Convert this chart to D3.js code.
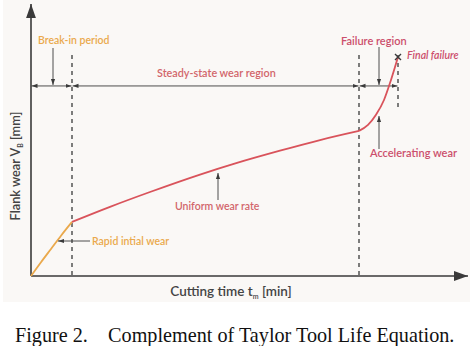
<!DOCTYPE html>
<html><head><meta charset="utf-8">
<script src="https://cdn.jsdelivr.net/npm/d3@7"></script>
<style>
html,body{margin:0;padding:0;background:#fff;}
svg{display:block;}
</style></head>
<body>
<script>
// ---- data (t in arbitrary time units, v in arbitrary wear units) ----
const breakInT = [0, 2.5, 5, 7.5, 10.25];
const breakInV = [0, 5.3, 10.4, 15.5, 20.8];
const steadyT = [10.25, 19.75, 29.75, 42.25, 51.5, 62.25, 72.25, 82];
const steadyV = [20.8, 26.6, 32.3, 39.0, 43.5, 48.2, 52.3, 55.8];
const accelT = [82, 84.25, 86.25, 88.25, 90, 91.75];
const accelV = [55.8, 58.1, 62.0, 67.7, 75.4, 84.2];
const boundaries = [10.25, 82, 91.75];
const regionNames = ["Break-in period", "Steady-state wear region", "Failure region"];
const annotations = ["Rapid intial wear", "Uniform wear rate", "Accelerating wear", "Final failure"];
const xLabel = "Cutting time t";
const yLabel = "Flank wear V";
const caption = "Figure 2.\u00a0\u00a0\u00a0 Complement of Taylor Tool Life Equation.";

const W = 474, H = 346;
const svg = d3.select("body").append("svg").attr("width", W).attr("height", H);

const x = d3.scaleLinear().domain([0, 100]).range([31, 431]);
const y = d3.scaleLinear().domain([0, 100]).range([276, 16]);

const dark = "#3a3a3a";
const orange = "#eaa94c";
const red = "#d9535b";
const redText = "#d2656a";
const pink = "#cc4f6c";

// background panel
svg.append("rect").attr("x", 3).attr("y", 0).attr("width", 467).attr("height", 302).attr("fill", "#faf8f6");

const defs = svg.append("defs");
function marker(id, size) {
  defs.append("marker").attr("id", id).attr("viewBox", "0 0 10 10").attr("refX", 10).attr("refY", 5)
    .attr("markerWidth", size).attr("markerHeight", size).attr("orient", "auto-start-reverse")
    .attr("markerUnits", "userSpaceOnUse")
    .append("path").attr("d", "M0,1.5 L10,5 L0,8.5 Z").attr("fill", dark);
}
marker("arr", 6);
marker("big", 14);

// region dashed lines
const dashTop = y(85);
svg.selectAll("line.bound").data(boundaries).join("line").attr("class", "bound")
  .attr("x1", d => x(d)).attr("x2", d => x(d))
  .attr("y1", dashTop).attr("y2", (d, i) => i === 2 ? y(65) : y(0))
  .attr("stroke", dark).attr("stroke-width", 1.3).attr("stroke-dasharray", "4,4");

// region span arrows
const spanY = y(73.1);
const spans = [[0, boundaries[0]], [boundaries[0], boundaries[1]], [boundaries[1], boundaries[2]]];
svg.selectAll("line.span").data(spans).join("line").attr("class", "span")
  .attr("x1", d => x(d[0]) + 0.5).attr("x2", d => x(d[1]) - 0.5)
  .attr("y1", spanY).attr("y2", spanY)
  .attr("stroke", dark).attr("stroke-width", 0.9)
  .attr("marker-start", "url(#arr)").attr("marker-end", "url(#arr)");

// axes
svg.append("line").attr("x1", x(0)).attr("x2", x(0)).attr("y1", y(0)).attr("y2", 4)
  .attr("stroke", dark).attr("stroke-width", 1.6).attr("marker-end", "url(#big)");
svg.append("line").attr("x1", x(0)).attr("x2", 468).attr("y1", y(0)).attr("y2", y(0))
  .attr("stroke", dark).attr("stroke-width", 1.6).attr("marker-end", "url(#big)");

// curves
const line = d3.line().x(d => x(d[0])).y(d => y(d[1])).curve(d3.curveMonotoneX);
const zip = (a, b) => a.map((v, i) => [v, b[i]]);
svg.append("path").attr("d", line(zip(breakInT, breakInV))).attr("fill", "none").attr("stroke", orange).attr("stroke-width", 1.8);
svg.append("path").attr("d", line(zip(steadyT, steadyV))).attr("fill", "none").attr("stroke", red).attr("stroke-width", 1.8);
svg.append("path").attr("d", line(zip(accelT, accelV))).attr("fill", "none").attr("stroke", red).attr("stroke-width", 1.8);

// final failure X
const fx = x(accelT[accelT.length - 1]), fy = y(accelV[accelV.length - 1]);
svg.append("path").attr("d", `M${fx-3},${fy-3}L${fx+3},${fy+3}M${fx+3},${fy-3}L${fx-3},${fy+3}`)
  .attr("stroke", dark).attr("stroke-width", 1.4);

// pointer arrows
function pointer(x1, y1, x2, y2) {
  svg.append("line").attr("x1", x1).attr("y1", y1).attr("x2", x2).attr("y2", y2)
    .attr("stroke", dark).attr("stroke-width", 0.9).attr("marker-end", "url(#arr)");
}
pointer(53, 48, 53, spanY - 1);
pointer(379, 47, 379, spanY - 1);
pointer(379, 149, 379, 116);
pointer(218, 200, 218, 173);
pointer(90, 241, 58, 241);

// labels
const font = "Lato, 'Open Sans', sans-serif";
function label(t, xx, yy, col, opts = {}) {
  return svg.append("text").attr("x", xx).attr("y", yy).attr("fill", col)
    .attr("font-family", font).attr("font-size", opts.size || 10.5)
    .attr("font-weight", opts.weight || 600).attr("font-style", opts.style || "normal")
    .attr("text-anchor", opts.anchor || "start").text(t);
}
label(regionNames[0], 38, 44, orange);
label(regionNames[1], 157, 77, redText, {size: 10.8});
label(regionNames[2], 341, 45, pink, {size: 11});
label(annotations[0], 92, 245, orange);
label(annotations[1], 175, 210, redText);
label(annotations[2], 370, 157, pink, {size: 11});
label(annotations[3], 407, 59, pink, {style: "italic"});

// axis titles
const xt = svg.append("text").attr("x", 231).attr("y", 296).attr("text-anchor", "middle")
  .attr("fill", "#444").attr("font-family", font).attr("font-size", 13.5).attr("font-weight", 600);
xt.append("tspan").text(xLabel);
xt.append("tspan").attr("font-size", 7).attr("dy", 3).text("m");
xt.append("tspan").attr("dy", -3).text(" [min]");

const yt = svg.append("text").attr("transform", "translate(20,166) rotate(-90)").attr("text-anchor", "middle")
  .attr("fill", "#444").attr("font-family", font).attr("font-size", 12.8).attr("font-weight", 600);
yt.append("tspan").text(yLabel);
yt.append("tspan").attr("font-size", 7).attr("dy", 3).text("B");
yt.append("tspan").attr("dy", -3).text(" [mm]");

// caption
svg.append("text").attr("x", 15).attr("y", 342).attr("fill", "#111")
  .attr("font-family", "'Liberation Serif', 'Times New Roman', serif").attr("font-size", 20.2)
  .text(caption);
</script>
</body></html>
